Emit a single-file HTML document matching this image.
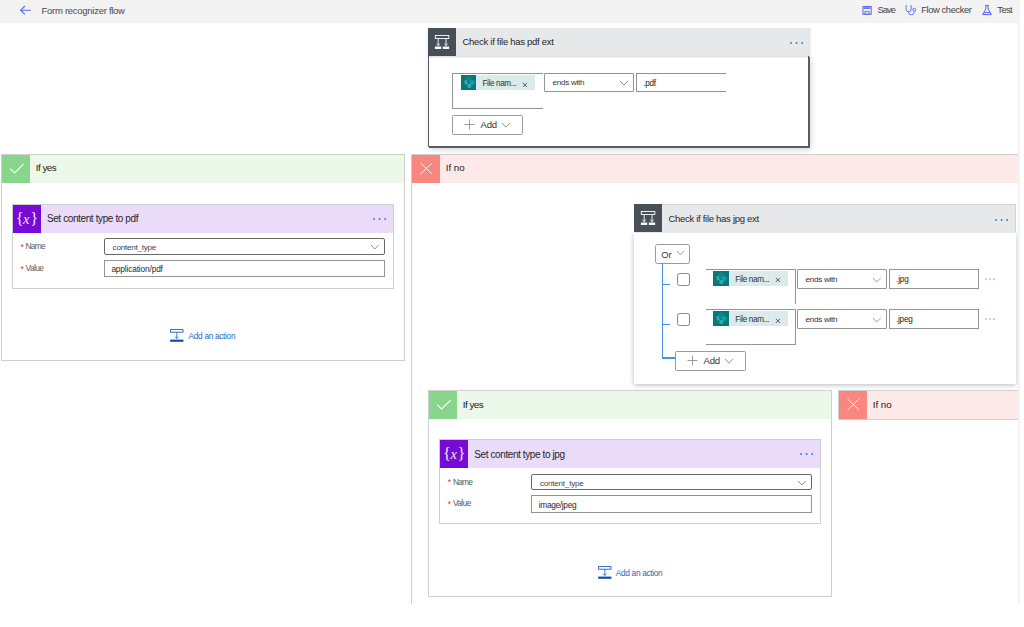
<!DOCTYPE html>
<html><head><meta charset="utf-8"><title>Form recognizer flow</title>
<style>
html,body{margin:0;padding:0;background:#fff;}
body{width:1024px;height:627px;position:relative;overflow:hidden;font-family:"Liberation Sans",sans-serif;}
#c{position:absolute;left:0;top:0;width:1024px;height:627px;overflow:hidden;}
#c div,#c span,#c svg{position:absolute;}
#c span{white-space:nowrap;line-height:1;}
#c svg{overflow:visible;}
</style></head><body><div id="c">
<div style="left:0px;top:0px;width:1020px;height:23px;background:#f3f3f3;"></div>
<div style="left:1018px;top:23px;width:2px;height:581px;background:#f3f3f3;"></div>
<svg style="left:18px;top:3px;" width="16" height="16" viewBox="0 0 16 16"><path d="M12.7 7.2H2.8M6.9 3L2.7 7.2L6.9 11.4" fill="none" stroke="#5a6af0" stroke-width="1.1"/></svg>
<span style="left:41.5px;top:5.62px;font-size:9.5px;color:#4a4a4a;letter-spacing:-0.275px;">Form recognizer flow</span>
<svg style="left:861px;top:4px;" width="12" height="12" viewBox="0 0 12 12"><rect x="2" y="2.5" width="8.2" height="7.7" fill="none" stroke="#5565f2" stroke-width="1"/><rect x="2.8" y="3.2" width="6.6" height="1.8" fill="#5565f2" opacity=".85"/><rect x="3.9" y="7.6" width="4.2" height="2.6" fill="none" stroke="#5565f2" stroke-width="0.9"/></svg>
<span style="left:877.5px;top:5.72px;font-size:9.3px;color:#444;letter-spacing:-0.900px;">Save</span>
<svg style="left:903px;top:3px;" width="16" height="14" viewBox="0 0 16 14"><path d="M3.9 2.7H3V6.1a2.6 2.6 0 0 0 5.2 0V2.7H7.3" fill="none" stroke="#5c6cf3" stroke-width="0.95"/><path d="M5.6 8.7v0.4a2.8 2.8 0 0 0 5.6 0V8.3" fill="none" stroke="#5c6cf3" stroke-width="0.95"/><circle cx="11.2" cy="6.7" r="1.5" fill="none" stroke="#5c6cf3" stroke-width="0.95"/></svg>
<span style="left:921.2px;top:5.72px;font-size:9.3px;color:#444;letter-spacing:-0.365px;">Flow checker</span>
<svg style="left:980px;top:3px;" width="14" height="14" viewBox="0 0 14 14"><path d="M5.4 2.4h3.2M5.9 2.4v3.6L2.6 11.6h8.8L8.1 6V2.4" fill="none" stroke="#5565f2" stroke-width="1"/><path d="M3.6 9.6h6.8" stroke="#5565f2" stroke-width="1"/></svg>
<span style="left:997.3px;top:5.72px;font-size:9.3px;color:#444;letter-spacing:-0.564px;">Test</span>
<div style="left:428px;top:55.8px;width:381px;height:91.2px;background:#fff;border:1px solid #555d68;border-top:none;box-sizing:border-box;box-shadow:1px 1px 0 #555d68, 2px 3px 6px rgba(0,0,0,.16);"></div>
<div style="left:428px;top:27.6px;width:382px;height:28.2px;background:#e7e8ea;box-shadow:0 1px 2px rgba(0,0,0,.18);"></div>
<div style="left:428px;top:27.6px;width:28px;height:28px;background:#484f58;"></div>
<svg style="left:428px;top:27.6px;" width="28" height="28" viewBox="0 0 28 28"><rect x="7.3" y="7.5" width="13.5" height="3" fill="none" stroke="#fff" stroke-width="0.9"/><path d="M10.2 10.5v7M18 10.5v7" stroke="#fff" stroke-width="0.9" fill="none"/><path d="M8.6 15.6l1.6 2l1.6-2M16.4 15.6l1.6 2l1.6-2" stroke="#fff" stroke-width="0.8" fill="none"/><rect x="6.9" y="18.5" width="6.3" height="2.5" fill="#fff"/><rect x="14.8" y="18.5" width="6.3" height="2.5" fill="#fff"/></svg>
<span style="left:462.4px;top:37.02px;font-size:9.5px;color:#262626;letter-spacing:-0.277px;">Check if file has pdf ext</span>
<svg style="left:789.6px;top:40.8px;" width="14" height="4" viewBox="0 0 14 4"><circle cx="1.0" cy="2" r="0.95" fill="#2b7fd6"/><circle cx="6.6" cy="2" r="0.95" fill="#2b7fd6"/><circle cx="12.2" cy="2" r="0.95" fill="#2b7fd6"/></svg>
<div style="left:452px;top:73px;width:91px;height:36px;border:1px solid #949494;border-right:none;box-sizing:border-box;"></div>
<div style="left:461px;top:75px;width:74px;height:15px;background:#dbeaea;"></div>
<div style="left:461px;top:75px;width:15px;height:15px;background:#06777a;"></div>
<svg style="left:461px;top:75px;" width="16" height="15" viewBox="0 0 16 15"><circle cx="8.1" cy="4.4" r="3.2" fill="#0c8489"/><circle cx="11" cy="7.6" r="2.7" fill="#1a9aa0"/><circle cx="8.3" cy="10.9" r="2.2" fill="#25adb5"/><rect x="2.8" y="4.5" width="4.4" height="5.3" rx="0.4" fill="#0d8388"/><path d="M6 5.9C5.2 5.5 4.1 5.7 4.1 6.5C4.1 7.5 6 7.1 6 8.1C6 8.9 4.8 9 4 8.5" fill="none" stroke="#a9dcdc" stroke-width="0.65"/></svg>
<span style="left:482.5px;top:79.65px;font-size:8.2px;color:#333;letter-spacing:-0.389px;">File nam...</span>
<svg style="left:522.1px;top:81.5px;" width="6" height="6" viewBox="0 0 6 6"><path d="M0.8 0.8L5 5M5 0.8L0.8 5" stroke="#444" stroke-width="0.85" fill="none"/></svg>
<div style="left:544px;top:73px;width:90.4px;height:19.2px;border:1px solid #949494;box-sizing:border-box;border-radius:1px;"></div>
<span style="left:552.6px;top:79.30px;font-size:8.1px;color:#333;letter-spacing:-0.280px;">ends with</span>
<svg style="left:618.8px;top:80.10000000000001px;" width="10" height="6.2" viewBox="0 0 10 6.2"><path d="M1 1L5.0 5.2L9 1" fill="none" stroke="#777" stroke-width="0.85"/></svg>
<div style="left:636px;top:73px;width:90px;height:19.2px;border:1px solid #949494;border-right:none;box-sizing:border-box;"></div>
<span style="left:643.2px;top:79.65px;font-size:8.2px;color:#222;letter-spacing:-0.269px;">.pdf</span>
<div style="left:452px;top:115px;width:71px;height:20px;border:1px solid #9a9a9a;border-radius:1.5px;box-sizing:border-box;background:#fff;"></div>
<svg style="left:464px;top:119px;" width="11" height="11" viewBox="0 0 11 11"><path d="M5.5 0.5v10M0.5 5.5h10" stroke="#858585" stroke-width="0.8"/></svg>
<span style="left:480.6px;top:119.97px;font-size:9.6px;color:#333;letter-spacing:-0.227px;">Add</span>
<svg style="left:500.5px;top:121.5px;" width="10" height="6.2" viewBox="0 0 10 6.2"><path d="M1 1L5.0 5.2L9 1" fill="none" stroke="#777" stroke-width="0.8"/></svg>
<div style="left:1px;top:154px;width:404.4px;height:207px;border:1px solid #cfcfcf;box-sizing:border-box;background:#fff;"></div>
<div style="left:2px;top:155px;width:402.4px;height:27.5px;background:#ebf8ea;"></div>
<div style="left:2px;top:155px;width:28px;height:27.5px;background:#87d68b;"></div>
<svg style="left:2px;top:155px;" width="29" height="28" viewBox="0 0 29 28"><path d="M8 13.6L12.6 17.9L21.6 9.1" fill="none" stroke="#fff" stroke-width="1.15"/></svg>
<span style="left:35.7px;top:163.38px;font-size:9.8px;color:#1a1a1a;letter-spacing:-0.470px;">If yes</span>
<div style="left:12px;top:204px;width:382px;height:85px;border:1px solid #cfcfcf;box-sizing:border-box;background:#fff;"></div>
<div style="left:12.5px;top:204.7px;width:380.4px;height:28px;background:#eadcf9;"></div>
<div style="left:12.5px;top:204.7px;width:28.3px;height:28px;background:#770bd6;"></div>
<span style="left:15.7px;top:210.89999999999998px;font-size:16.5px;line-height:1;color:#f1e6fb;font-family:'Liberation Serif',serif;letter-spacing:-0.5px;">{<i style="font-size:14.5px;letter-spacing:0.6px;position:relative;top:-0.3px">x</i>}</span>
<span style="left:46.9px;top:213.58px;font-size:10px;color:#262626;letter-spacing:-0.386px;">Set content type to pdf</span>
<svg style="left:373px;top:216.6px;" width="14" height="4" viewBox="0 0 14 4"><circle cx="1.0" cy="2" r="0.95" fill="#2b7fd6"/><circle cx="6.6" cy="2" r="0.95" fill="#2b7fd6"/><circle cx="12.2" cy="2" r="0.95" fill="#2b7fd6"/></svg>
<span style="left:20.4px;top:243.05px;font-size:8.6px;color:#d13438;">*</span>
<span style="left:25.5px;top:242.25px;font-size:8.4px;color:#5a5a5a;letter-spacing:-0.752px;">Name</span>
<span style="left:20.4px;top:264.65px;font-size:8.6px;color:#d13438;">*</span>
<span style="left:25.5px;top:263.95px;font-size:8.4px;color:#5a5a5a;letter-spacing:-0.572px;">Value</span>
<div style="left:104px;top:238px;width:281.4px;height:17px;border:1px solid #686868;border-radius:2px;box-sizing:border-box;background:#fff;"></div>
<span style="left:112.6px;top:244.30px;font-size:8.1px;color:#444;letter-spacing:-0.240px;">content_type</span>
<svg style="left:370.09999999999997px;top:244.0px;" width="9.6" height="6" viewBox="0 0 9.6 6"><path d="M1 1L4.8 5L8.6 1" fill="none" stroke="#777" stroke-width="0.85"/></svg>
<div style="left:104px;top:260px;width:281.4px;height:17px;border:1px solid #949494;box-sizing:border-box;background:#fff;"></div>
<span style="left:111.4px;top:265.40px;font-size:8.3px;color:#2a2a2a;letter-spacing:-0.142px;">application/pdf</span>
<svg style="left:170.4px;top:329.3px;" width="14" height="14" viewBox="0 0 14 14"><rect x="0.6" y="0.6" width="12.4" height="2.6" fill="#fff" stroke="#1f5fb5" stroke-width="0.9"/><path d="M6.8 3.2v6.2M5 7.6l1.8 1.9l1.8-1.9" fill="none" stroke="#1f5fb5" stroke-width="0.8"/><rect x="0.2" y="10.6" width="13.2" height="2.2" fill="#0d4fa8"/></svg>
<span style="left:188.6px;top:332.20px;font-size:8.3px;color:#2a66c8;letter-spacing:-0.320px;">Add an action</span>
<div style="left:411px;top:154px;width:615px;height:450px;border:1px solid #cfcfcf;border-bottom:none;box-sizing:border-box;background:#fff;"></div>
<div style="left:412px;top:155px;width:612px;height:27.5px;background:#fdeae8;"></div>
<div style="left:412px;top:155px;width:28px;height:27.5px;background:#f9877f;"></div>
<svg style="left:412px;top:155px;" width="29" height="28" viewBox="0 0 29 28"><path d="M8.6 8L20.2 19M20.2 8L8.6 19" fill="none" stroke="#fff" stroke-width="0.95" opacity=".92"/></svg>
<span style="left:445.7px;top:163.38px;font-size:9.8px;color:#1a1a1a;letter-spacing:-0.014px;">If no</span>
<div style="left:634px;top:232.5px;width:382px;height:151.5px;background:#fff;box-shadow:0 1px 5px rgba(0,0,0,.28);"></div>
<div style="left:634px;top:204.2px;width:382px;height:28.4px;background:#e7e8ea;box-shadow:inset -1px 1px 0 #d3d4d6;"></div>
<div style="left:634px;top:204.2px;width:28px;height:28px;background:#484f58;"></div>
<svg style="left:634px;top:204.2px;" width="28" height="28" viewBox="0 0 28 28"><rect x="7.3" y="7.5" width="13.5" height="3" fill="none" stroke="#fff" stroke-width="0.9"/><path d="M10.2 10.5v7M18 10.5v7" stroke="#fff" stroke-width="0.9" fill="none"/><path d="M8.6 15.6l1.6 2l1.6-2M16.4 15.6l1.6 2l1.6-2" stroke="#fff" stroke-width="0.8" fill="none"/><rect x="6.9" y="18.5" width="6.3" height="2.5" fill="#fff"/><rect x="14.8" y="18.5" width="6.3" height="2.5" fill="#fff"/></svg>
<span style="left:668.4px;top:213.52px;font-size:9.5px;color:#262626;letter-spacing:-0.287px;">Check if file has jpg ext</span>
<svg style="left:995px;top:217.5px;" width="14" height="4" viewBox="0 0 14 4"><circle cx="1.0" cy="2" r="0.95" fill="#2b7fd6"/><circle cx="6.6" cy="2" r="0.95" fill="#2b7fd6"/><circle cx="12.2" cy="2" r="0.95" fill="#2b7fd6"/></svg>
<div style="left:655.2px;top:244px;width:34.6px;height:19.7px;border:1.3px solid #999;border-radius:2.5px;box-sizing:border-box;background:#fff;"></div>
<span style="left:661.2px;top:249.57px;font-size:9.4px;color:#333;letter-spacing:-0.021px;">Or</span>
<svg style="left:676.1px;top:250.35000000000002px;" width="9" height="5.9" viewBox="0 0 9 5.9"><path d="M1 1L4.5 4.9L8 1" fill="none" stroke="#888" stroke-width="0.8"/></svg>
<div style="left:662px;top:263.4px;width:1.2px;height:95px;background:#4694e4;"></div>
<div style="left:662px;top:283.8px;width:8px;height:1.2px;background:#4694e4;"></div>
<div style="left:662px;top:324.3px;width:8px;height:1.2px;background:#4694e4;"></div>
<div style="left:662px;top:357.4px;width:13.6px;height:1.2px;background:#4694e4;"></div>
<div style="left:676.7px;top:273px;width:13px;height:12.8px;border:1.3px solid #888;border-radius:2.5px;box-sizing:border-box;background:#fff;"></div>
<div style="left:706px;top:269px;width:90px;height:35px;border-top:1px solid #949494;border-right:1px solid #949494;box-sizing:border-box;"></div>
<div style="left:712.8px;top:270.6px;width:75px;height:15px;background:#dbeaea;"></div>
<div style="left:712.8px;top:270.6px;width:15.8px;height:15px;background:#06777a;"></div>
<svg style="left:712.8px;top:270.6px;" width="16" height="15" viewBox="0 0 16 15"><circle cx="8.1" cy="4.4" r="3.2" fill="#0c8489"/><circle cx="11" cy="7.6" r="2.7" fill="#1a9aa0"/><circle cx="8.3" cy="10.9" r="2.2" fill="#25adb5"/><rect x="2.8" y="4.5" width="4.4" height="5.3" rx="0.4" fill="#0d8388"/><path d="M6 5.9C5.2 5.5 4.1 5.7 4.1 6.5C4.1 7.5 6 7.1 6 8.1C6 8.9 4.8 9 4 8.5" fill="none" stroke="#a9dcdc" stroke-width="0.65"/></svg>
<span style="left:735.3px;top:276.25px;font-size:8.2px;color:#333;letter-spacing:-0.389px;">File nam...</span>
<svg style="left:774.9px;top:277.1px;" width="6" height="6" viewBox="0 0 6 6"><path d="M0.8 0.8L5 5M5 0.8L0.8 5" stroke="#444" stroke-width="0.85" fill="none"/></svg>
<div style="left:796.6px;top:269px;width:90.4px;height:20px;border:1px solid #949494;box-sizing:border-box;border-radius:1px;"></div>
<span style="left:805.5px;top:275.80px;font-size:8.1px;color:#333;letter-spacing:-0.280px;">ends with</span>
<svg style="left:871.7px;top:276.5px;" width="9.6" height="6.0" viewBox="0 0 9.6 6.0"><path d="M1 1L4.8 5.0L8.6 1" fill="none" stroke="#8c8c8c" stroke-width="0.85"/></svg>
<div style="left:888.8px;top:269px;width:90.4px;height:20px;border:1px solid #949494;box-sizing:border-box;"></div>
<span style="left:896px;top:276.05px;font-size:8.2px;color:#222;letter-spacing:-0.130px;">.jpg</span>
<svg style="left:985.4px;top:277.1px;" width="14" height="4" viewBox="0 0 14 4"><circle cx="1.0" cy="2" r="0.8" fill="#7f9df0"/><circle cx="5.0" cy="2" r="0.8" fill="#7f9df0"/><circle cx="9.0" cy="2" r="0.8" fill="#7f9df0"/></svg>
<div style="left:676.7px;top:313px;width:13px;height:12.8px;border:1.3px solid #888;border-radius:2.5px;box-sizing:border-box;background:#fff;"></div>
<div style="left:706px;top:309px;width:90px;height:36px;border-top:1px solid #949494;border-right:1px solid #949494;box-sizing:border-box;border-bottom:1px solid #949494;"></div>
<div style="left:712.8px;top:311px;width:75px;height:15px;background:#dbeaea;"></div>
<div style="left:712.8px;top:311px;width:15.8px;height:15px;background:#06777a;"></div>
<svg style="left:712.8px;top:311px;" width="16" height="15" viewBox="0 0 16 15"><circle cx="8.1" cy="4.4" r="3.2" fill="#0c8489"/><circle cx="11" cy="7.6" r="2.7" fill="#1a9aa0"/><circle cx="8.3" cy="10.9" r="2.2" fill="#25adb5"/><rect x="2.8" y="4.5" width="4.4" height="5.3" rx="0.4" fill="#0d8388"/><path d="M6 5.9C5.2 5.5 4.1 5.7 4.1 6.5C4.1 7.5 6 7.1 6 8.1C6 8.9 4.8 9 4 8.5" fill="none" stroke="#a9dcdc" stroke-width="0.65"/></svg>
<span style="left:735.3px;top:316.05px;font-size:8.2px;color:#333;letter-spacing:-0.389px;">File nam...</span>
<svg style="left:774.9px;top:317.5px;" width="6" height="6" viewBox="0 0 6 6"><path d="M0.8 0.8L5 5M5 0.8L0.8 5" stroke="#444" stroke-width="0.85" fill="none"/></svg>
<div style="left:796.6px;top:309px;width:90.4px;height:20px;border:1px solid #949494;box-sizing:border-box;border-radius:1px;"></div>
<span style="left:805.5px;top:316.10px;font-size:8.1px;color:#333;letter-spacing:-0.280px;">ends with</span>
<svg style="left:871.7px;top:316.8px;" width="9.6" height="6.0" viewBox="0 0 9.6 6.0"><path d="M1 1L4.8 5.0L8.6 1" fill="none" stroke="#8c8c8c" stroke-width="0.85"/></svg>
<div style="left:888.8px;top:309px;width:90.4px;height:20px;border:1px solid #949494;box-sizing:border-box;"></div>
<span style="left:896px;top:316.35px;font-size:8.2px;color:#222;letter-spacing:-0.256px;">.jpeg</span>
<svg style="left:985.4px;top:317.40000000000003px;" width="14" height="4" viewBox="0 0 14 4"><circle cx="1.0" cy="2" r="0.8" fill="#7f9df0"/><circle cx="5.0" cy="2" r="0.8" fill="#7f9df0"/><circle cx="9.0" cy="2" r="0.8" fill="#7f9df0"/></svg>
<div style="left:675px;top:351px;width:71px;height:20px;border:1px solid #9a9a9a;border-radius:1.5px;box-sizing:border-box;background:#fff;"></div>
<svg style="left:687px;top:355px;" width="11" height="11" viewBox="0 0 11 11"><path d="M5.5 0.5v10M0.5 5.5h10" stroke="#858585" stroke-width="0.8"/></svg>
<span style="left:703.6px;top:355.97px;font-size:9.6px;color:#333;letter-spacing:-0.227px;">Add</span>
<svg style="left:723.5px;top:357.5px;" width="10" height="6.2" viewBox="0 0 10 6.2"><path d="M1 1L5.0 5.2L9 1" fill="none" stroke="#777" stroke-width="0.8"/></svg>
<div style="left:428px;top:390px;width:403.6px;height:207px;border:1px solid #cfcfcf;box-sizing:border-box;background:#fff;"></div>
<div style="left:429px;top:391px;width:401.6px;height:27.5px;background:#ebf8ea;"></div>
<div style="left:429px;top:391px;width:28px;height:27.5px;background:#87d68b;"></div>
<svg style="left:429px;top:391px;" width="29" height="28" viewBox="0 0 29 28"><path d="M8 13.6L12.6 17.9L21.6 9.1" fill="none" stroke="#fff" stroke-width="1.15"/></svg>
<span style="left:462.7px;top:400.28px;font-size:9.8px;color:#1a1a1a;letter-spacing:-0.470px;">If yes</span>
<div style="left:439.4px;top:439.4px;width:381.6px;height:85px;border:1px solid #cfcfcf;box-sizing:border-box;background:#fff;"></div>
<div style="left:439.9px;top:440.09999999999997px;width:380.0px;height:28px;background:#eadcf9;"></div>
<div style="left:439.9px;top:440.09999999999997px;width:28.3px;height:28px;background:#770bd6;"></div>
<span style="left:443.09999999999997px;top:446.29999999999995px;font-size:16.5px;line-height:1;color:#f1e6fb;font-family:'Liberation Serif',serif;letter-spacing:-0.5px;">{<i style="font-size:14.5px;letter-spacing:0.6px;position:relative;top:-0.3px">x</i>}</span>
<span style="left:474.29999999999995px;top:449.88px;font-size:10px;color:#262626;letter-spacing:-0.401px;">Set content type to jpg</span>
<svg style="left:800.4px;top:452.0px;" width="14" height="4" viewBox="0 0 14 4"><circle cx="1.0" cy="2" r="0.95" fill="#2b7fd6"/><circle cx="6.6" cy="2" r="0.95" fill="#2b7fd6"/><circle cx="12.2" cy="2" r="0.95" fill="#2b7fd6"/></svg>
<span style="left:447.79999999999995px;top:478.45px;font-size:8.6px;color:#d13438;">*</span>
<span style="left:452.9px;top:477.65px;font-size:8.4px;color:#5a5a5a;letter-spacing:-0.752px;">Name</span>
<span style="left:447.79999999999995px;top:500.05px;font-size:8.6px;color:#d13438;">*</span>
<span style="left:452.9px;top:499.35px;font-size:8.4px;color:#5a5a5a;letter-spacing:-0.572px;">Value</span>
<div style="left:531.4px;top:474px;width:281.0px;height:16px;border:1px solid #686868;border-radius:2px;box-sizing:border-box;background:#fff;"></div>
<span style="left:540.0px;top:479.80px;font-size:8.1px;color:#444;letter-spacing:-0.240px;">content_type</span>
<svg style="left:797.1px;top:479.5px;" width="9.6" height="6" viewBox="0 0 9.6 6"><path d="M1 1L4.8 5L8.6 1" fill="none" stroke="#777" stroke-width="0.85"/></svg>
<div style="left:531.4px;top:495px;width:281.0px;height:18px;border:1px solid #949494;box-sizing:border-box;background:#fff;"></div>
<span style="left:538.8px;top:500.90px;font-size:8.3px;color:#2a2a2a;letter-spacing:-0.311px;">image/jpeg</span>
<svg style="left:597.6px;top:565.7px;" width="14" height="14" viewBox="0 0 14 14"><rect x="0.6" y="0.6" width="12.4" height="2.6" fill="#fff" stroke="#1f5fb5" stroke-width="0.9"/><path d="M6.8 3.2v6.2M5 7.6l1.8 1.9l1.8-1.9" fill="none" stroke="#1f5fb5" stroke-width="0.8"/><rect x="0.2" y="10.6" width="13.2" height="2.2" fill="#0d4fa8"/></svg>
<span style="left:615.8000000000001px;top:568.60px;font-size:8.3px;color:#2a66c8;letter-spacing:-0.320px;">Add an action</span>
<div style="left:838px;top:390px;width:182px;height:30px;border:1px solid #cfcfcf;border-right:none;box-sizing:border-box;background:#fff;"></div>
<div style="left:839px;top:391px;width:179.5px;height:27.5px;background:#fdeae8;"></div>
<div style="left:839px;top:391px;width:28px;height:27.5px;background:#f9877f;"></div>
<svg style="left:839px;top:391px;" width="29" height="28" viewBox="0 0 29 28"><path d="M8.6 8L20.2 19M20.2 8L8.6 19" fill="none" stroke="#fff" stroke-width="0.95" opacity=".92"/></svg>
<span style="left:872.7px;top:400.28px;font-size:9.8px;color:#1a1a1a;letter-spacing:-0.014px;">If no</span>
<div style="left:1018px;top:23px;width:2px;height:581px;background:#f3f3f3;"></div>
<div style="left:1020px;top:0px;width:4px;height:627px;background:#fff;"></div>
<div style="left:0px;top:604px;width:1024px;height:23px;background:#fff;"></div>
</div></body></html>
